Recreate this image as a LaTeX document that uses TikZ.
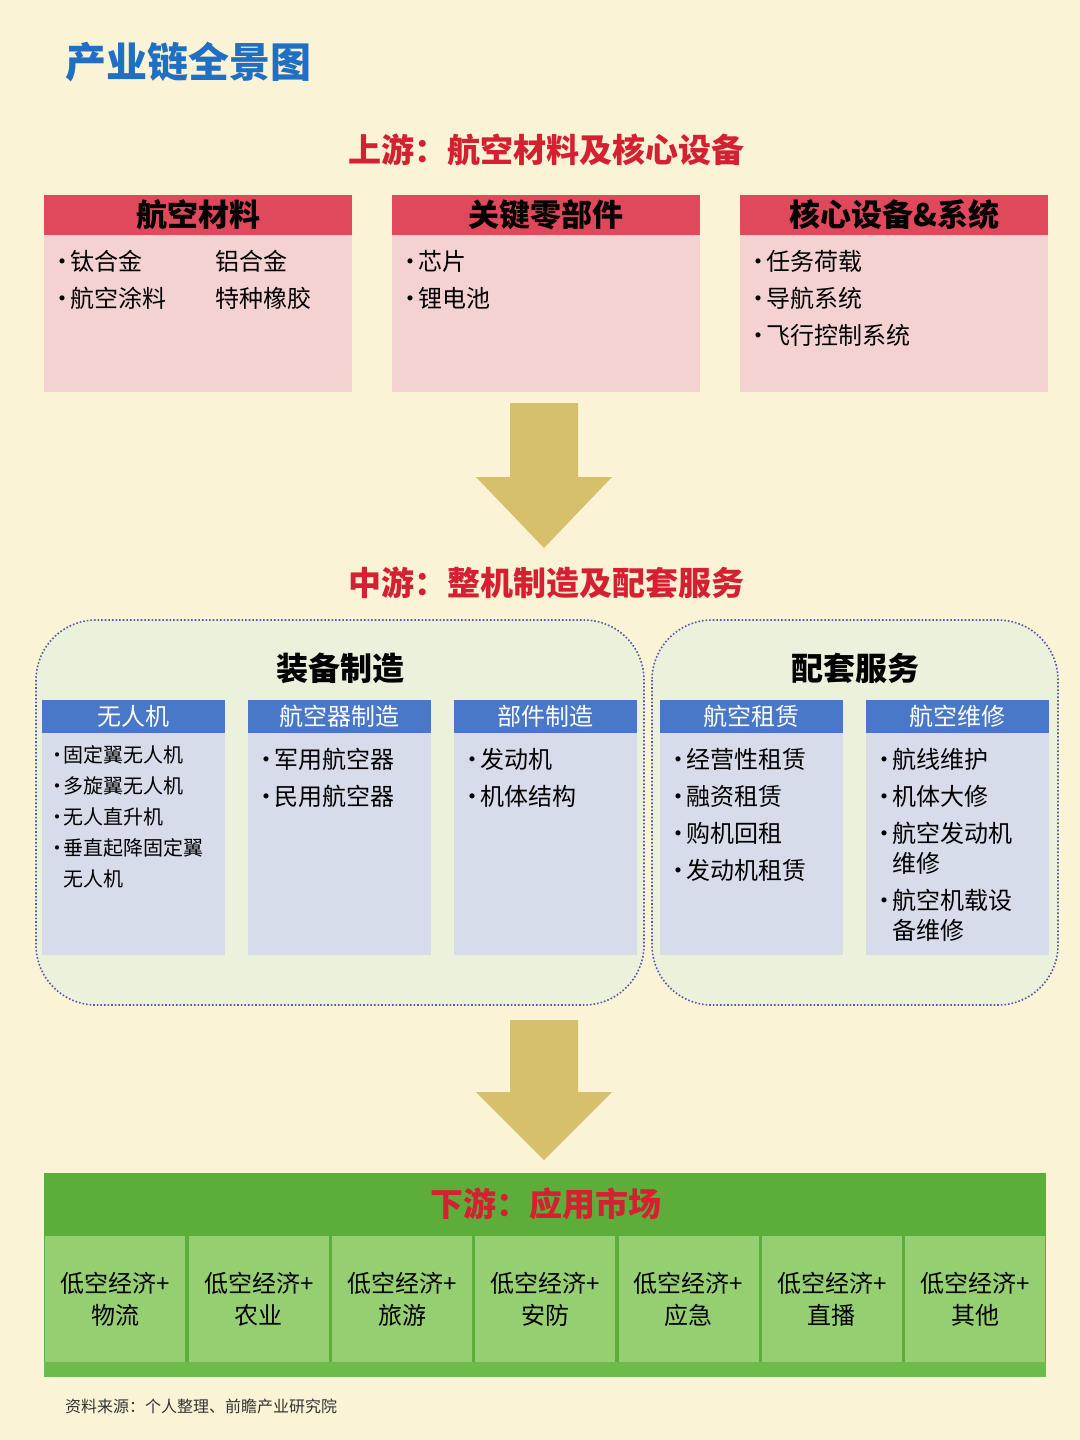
\documentclass[tikz,border=0pt]{standalone}
\usepackage{fontspec}
\setmainfont{Noto Sans CJK SC}
\usetikzlibrary{positioning}
\definecolor{bgcream}{HTML}{FBF3D5}
\definecolor{titleblue}{HTML}{1F6FC5}
\definecolor{headred}{HTML}{E0485C}
\definecolor{bodypink}{HTML}{F4D2D2}
\definecolor{darkred}{HTML}{D42030}
\definecolor{arrowgold}{HTML}{D6C06C}
\definecolor{regiongreen}{HTML}{EBF1DA}
\definecolor{subblue}{HTML}{4A78C8}
\definecolor{bodyblue}{HTML}{D6DCEA}
\definecolor{greenhead}{HTML}{5DAD3B}
\definecolor{greencell}{HTML}{95CF72}
\definecolor{greenbar}{HTML}{6DBB4A}
\tikzset{
  redhead/.style={draw=none, fill=headred, minimum width=154pt, minimum height=20pt, font=\fontsize{15.5}{18}\selectfont\bfseries, inner sep=0pt},
  pinkbody/.style={fill=bodypink, minimum width=154pt, minimum height=78.5pt, inner sep=0pt},
  bluehead/.style={fill=subblue, text=white, minimum width=91.5pt, minimum height=16.5pt, font=\fontsize{12}{14}\selectfont, inner sep=0pt},
  bluebody/.style={fill=bodyblue, minimum width=91.5pt, minimum height=111pt, inner sep=0pt},
  listtext/.style={anchor=north west, align=left, font=\fontsize{12}{18.5}\selectfont, inner sep=0pt},
  region/.style={draw=gray!70!blue, densely dotted, thick, fill=regiongreen, rounded corners=30pt},
  greencellbox/.style={fill=greencell, minimum width=70pt, minimum height=63pt, inner sep=0pt, align=center, font=\fontsize{12}{16}\selectfont},
  bigarrow/.style={fill=arrowgold, draw=none},
  stagetitle/.style={text=darkred, font=\fontsize{16.5}{18}\selectfont\bfseries}
}
\newcommand{\bul}{•\hspace{-2pt}}
\begin{document}
\begin{tikzpicture}[x=0.5pt,y=-0.5pt]
  \fill[bgcream] (0,0) rectangle (1080,1440);
  \useasboundingbox (0,0) rectangle (1080,1440);
  % title
  \node[anchor=west, text=titleblue, font=\fontsize{20.5}{22}\selectfont\bfseries] (title) at (58,62) {产业链全景图};
  % upstream
  \node[stagetitle] (up) at (546,150) {上游：航空材料及核心设备};
  \node[pinkbody, anchor=north west] (mat) at (44,235) {};
  \node[redhead, anchor=south] (math) at (mat.north) {航空材料};
  \node[pinkbody, anchor=north west] (part) at (392,235) {};
  \node[redhead, anchor=south] (parth) at (part.north) {关键零部件};
  \node[pinkbody, anchor=north west] (core) at (740,235) {};
  \node[redhead, anchor=south] (coreh) at (core.north) {核心设备\&系统};
  \node[listtext] (matl) at (50,250) {\bul 钛合金\\\bul 航空涂料};
  \node[listtext] (matr) at (215,250) {铝合金\\ 特种橡胶};
  \node[listtext] (partl) at (398,250) {\bul 芯片\\\bul 锂电池};
  \node[listtext] (corel) at (746,250) {\bul 任务荷载\\\bul 导航系统\\\bul 飞行控制系统};
  % arrow 1
  \fill[bigarrow] (510,403) -- (578,403) -- (578,477) -- (612,477) -- (544,548) -- (476,477) -- (510,477) -- cycle;
  % midstream
  \node[stagetitle] (mid) at (546,583) {中游：整机制造及配套服务};
  \draw[region] (36,620) rectangle (644,1005);
  \draw[region] (652,620) rectangle (1058,1005);
  \node[font=\fontsize{16}{18}\selectfont\bfseries] (equip) at (340,668) {装备制造};
  \node[font=\fontsize{16}{18}\selectfont\bfseries] (serv) at (855,668) {配套服务};
  \foreach \x/\name/\lab in {42/uav/无人机, 248/craft/航空器制造, 454/comp/部件制造, 660/lease/航空租赁, 866/maint/航空维修}{
    \node[bluebody, anchor=north west] (\name) at (\x,733) {};
    \node[bluehead, anchor=south] (\name h) at (\name.north) {\lab};
  }
  \node[listtext, font=\fontsize{10}{15.5}\selectfont] (uavl) at (47,745) {\bul 固定翼无人机\\\bul 多旋翼无人机\\\bul 无人直升机\\\bul 垂直起降固定翼\\\hphantom{\bul }无人机};
  \node[listtext] (craftl) at (254,748) {\bul 军用航空器\\\bul 民用航空器};
  \node[listtext] (compl) at (460,748) {\bul 发动机\\\bul 机体结构};
  \node[listtext] (leasel) at (666,748) {\bul 经营性租赁\\\bul 融资租赁\\\bul 购机回租\\\bul 发动机租赁};
  \node[listtext, font=\fontsize{12}{15}\selectfont] (maintl) at (872,748) {\bul 航线维护\\[3.5pt]\bul 机体大修\\[3.5pt]\bul 航空发动机\\\hphantom{\bul }维修\\[3.5pt]\bul 航空机载设\\\hphantom{\bul }备维修};
  % arrow 2
  \fill[bigarrow] (510,1020) -- (578,1020) -- (578,1092) -- (612,1092) -- (544,1160) -- (476,1092) -- (510,1092) -- cycle;
  % downstream
  \fill[greenhead] (44,1173) rectangle (1046,1377);
  \fill[greenbar] (44,1362) rectangle (1046,1377);
  \node[stagetitle] (down) at (546,1204) {下游：应用市场};
  \foreach \i/\lab in {0/物流, 1/农业, 2/旅游, 3/安防, 4/应急, 5/直播, 6/其他}{
    \node[greencellbox, anchor=north west] (cell\i) at ({44+\i*143.3+1},1236) {低空经济+\\\lab};
  }
  % source
  \node[anchor=west, font=\fontsize{8}{10}\selectfont, text=black!80] (src) at (58,1406) {资料来源：个人整理、前瞻产业研究院};
\end{tikzpicture}
\end{document}
